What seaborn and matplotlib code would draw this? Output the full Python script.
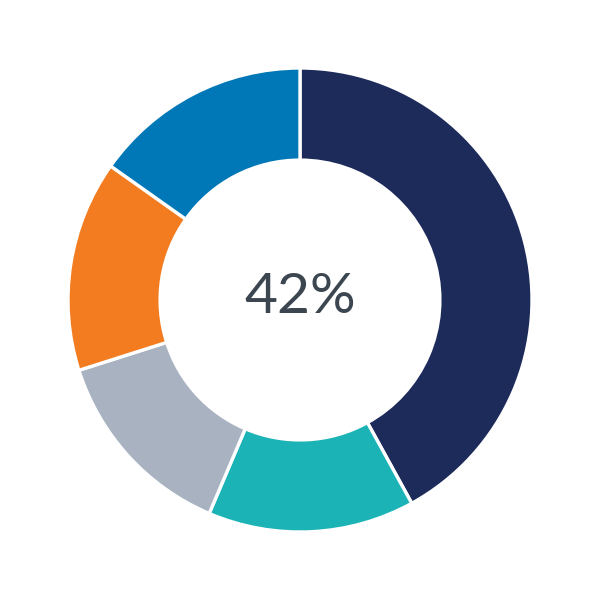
import matplotlib
matplotlib.use("Agg")
import matplotlib.pyplot as plt
import seaborn as sns

categories = ["A", "B", "C", "D", "E"]
values = [42.0, 14.4, 13.7, 14.7, 15.2]
colors = ["#1c2b5a", "#1bb3b6", "#a8b2c1", "#f47c20", "#0077b6"]
center_label = "42%"

sns.set_theme(style="white")
plt.rcParams['font.family'] = ['Lato', 'DejaVu Sans']

fig = plt.figure(figsize=(6, 6), dpi=100)
ax = fig.add_axes([0, 0, 1, 1])
ax.pie(values, colors=colors, startangle=90, counterclock=False,
       radius=1.0,
       wedgeprops=dict(width=0.397, edgecolor="white", linewidth=2.4))
ax.text(0, 0.01, center_label, ha="center", va="center", fontsize=41,
        color="#3c4650", fontweight="normal")
lim = 300 / 232
ax.set_xlim(-lim, lim)
ax.set_ylim(-lim, lim)
ax.set_aspect("equal")
ax.axis("off")
fig.savefig("out.png", dpi=100, facecolor="white")
